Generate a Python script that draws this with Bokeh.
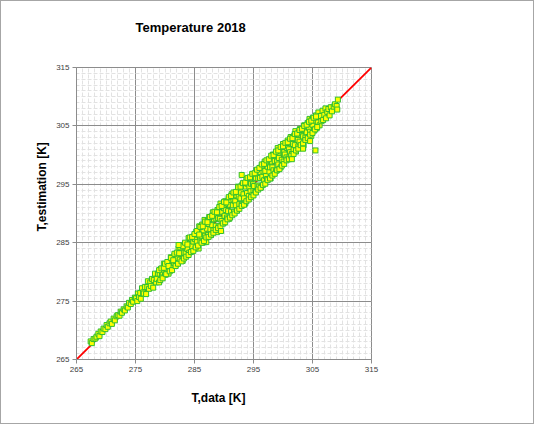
from bokeh.plotting import figure
from bokeh.models import FixedTicker, Range1d, Title
from bokeh.embed import file_html
from bokeh.resources import INLINE

# ---------------- data ----------------
axis_ticks = [265, 275, 285, 295, 305, 315]
minor_ticks = list(range(265, 316))
ref_line = [265, 315]

t_data_a = [267.4, 267.6, 267.9, 268.2, 268.4, 268.7, 268.9, 269.1, 269.4, 269.6,
            269.9, 270.1, 270.3, 270.6, 270.8, 271.0, 271.3, 271.5, 271.8, 272.0,
            272.3, 272.5, 272.7, 273.0, 273.2, 273.5, 273.7, 273.9, 274.2, 274.4,
            274.6, 274.9]
t_est_a = [268.1, 267.8, 268.5, 268.6, 268.9, 269.4, 269.0, 269.8, 269.7, 270.3,
           270.2, 270.9, 270.6, 271.2, 271.5, 271.1, 272.0, 271.7, 272.4, 272.6,
           272.5, 273.2, 273.0, 273.6, 273.4, 274.1, 273.9, 274.7, 274.5, 275.2,
           274.9, 275.6]

t_data_b = [275.1, 275.3, 275.4, 275.6, 275.8, 275.9, 276.1, 276.3, 276.4, 276.6,
            276.8, 277.0, 277.1, 277.3, 277.5, 277.6, 277.8, 278.0, 278.1, 278.3,
            278.5, 278.6, 278.8, 279.0, 279.1, 279.3, 279.5, 279.6, 279.8, 280.0,
            280.1, 280.3, 280.5, 280.6, 280.8, 281.0, 281.1, 281.3, 281.5, 281.6,
            281.8, 282.0, 282.1, 282.3, 282.5, 282.6, 282.8, 283.0, 283.1, 283.3,
            283.5, 283.6, 283.8, 284.0, 284.1, 284.3, 284.5, 284.6, 284.8, 285.0]
t_est_b = [275.5, 275.0, 276.3, 275.7, 276.4, 275.4, 277.2, 276.5, 276.3, 277.4,
           276.2, 277.4, 278.4, 277.1, 278.2, 277.6, 278.8, 277.3, 278.6, 279.7,
           278.2, 278.8, 279.7, 278.2, 279.7, 280.5, 279.4, 279.9, 281.4, 279.5,
           280.9, 280.4, 281.6, 279.7, 281.2, 282.5, 280.9, 282.0, 281.5, 282.8,
           281.2, 282.9, 282.4, 284.0, 282.1, 283.1, 283.8, 281.9, 283.3, 284.7,
           283.2, 284.4, 283.9, 285.8, 283.3, 284.9, 285.6, 284.4, 285.2, 286.3]

t_data_c = [285.1, 285.2, 285.3, 285.4, 285.5, 285.7, 285.8, 285.9, 286.0, 286.1,
            286.2, 286.3, 286.4, 286.5, 286.7, 286.8, 286.9, 287.0, 287.1, 287.2,
            287.3, 287.4, 287.5, 287.7, 287.8, 287.9, 288.0, 288.1, 288.2, 288.3,
            288.4, 288.6, 288.7, 288.8, 288.9, 289.0, 289.1, 289.2, 289.3, 289.4,
            289.6, 289.7, 289.8, 289.9, 290.0, 290.1, 290.2, 290.3, 290.5, 290.6,
            290.7, 290.8, 290.9, 291.0, 291.1, 291.2, 291.3, 291.5, 291.6, 291.7,
            291.8, 291.9, 292.0, 292.1, 292.2, 292.4, 292.5, 292.6, 292.7, 292.8,
            292.9, 293.0, 293.1, 293.3, 293.4, 293.5, 293.6, 293.7, 293.8, 293.9,
            294.0, 294.2, 294.3, 294.4, 294.5, 294.6, 294.7, 294.8, 294.9, 295.0]
t_est_c = [285.6, 284.0, 286.9, 285.1, 286.4, 284.0, 287.8, 286.0, 285.2, 287.4,
           286.1, 288.1, 285.0, 287.1, 288.9, 286.2, 288.0, 285.1, 287.4, 288.7,
           286.3, 288.2, 289.4, 287.3, 286.3, 289.1, 288.0, 290.2, 287.1, 289.0,
           289.8, 287.9, 289.1, 286.8, 290.6, 289.2, 287.8, 290.2, 289.1, 291.7,
           288.7, 290.3, 291.3, 288.3, 290.9, 289.6, 292.1, 290.6, 289.3, 291.7,
           290.4, 292.5, 289.1, 291.5, 292.3, 290.3, 293.3, 291.4, 292.4, 290.3,
           293.4, 292.1, 291.4, 293.1, 290.5, 294.6, 292.9, 291.6, 294.0, 292.6,
           293.6, 291.5, 294.9, 293.3, 292.6, 294.9, 291.7, 294.6, 295.9, 293.5,
           295.1, 293.0, 294.6, 296.0, 293.8, 295.1, 293.1, 296.7, 295.0, 294.0]

t_data_d = [295.1, 295.2, 295.3, 295.4, 295.5, 295.7, 295.8, 295.9, 296.0, 296.1,
            296.2, 296.3, 296.4, 296.5, 296.7, 296.8, 296.9, 297.0, 297.1, 297.2,
            297.3, 297.4, 297.5, 297.7, 297.8, 297.9, 298.0, 298.1, 298.2, 298.3,
            298.4, 298.6, 298.7, 298.8, 298.9, 299.0, 299.1, 299.2, 299.3, 299.4,
            299.6, 299.7, 299.8, 299.9, 300.0, 300.1, 300.2, 300.3, 300.5, 300.6,
            300.7, 300.8, 300.9, 301.0, 301.1, 301.2, 301.3, 301.5, 301.6, 301.7,
            301.8, 301.9, 302.0, 302.1, 302.2, 302.4, 302.5, 302.6, 302.7, 302.8,
            302.9, 303.0, 303.1, 303.3, 303.4, 303.5, 303.6, 303.7, 303.8, 303.9,
            304.0, 304.2, 304.3, 304.4, 304.5, 304.6, 304.7, 304.8, 304.9, 305.0]
t_est_d = [294.7, 296.5, 293.7, 296.1, 297.4, 294.8, 296.0, 294.6, 297.5, 296.1,
           297.1, 294.5, 298.1, 296.3, 297.2, 295.7, 298.9, 297.3, 296.4, 298.4,
           295.9, 298.0, 299.1, 297.2, 297.9, 296.0, 299.1, 298.9, 297.9, 300.1,
           297.4, 299.0, 300.1, 297.3, 299.8, 298.9, 301.2, 298.4, 299.5, 300.4,
           297.9, 301.2, 299.2, 300.6, 301.9, 298.9, 300.5, 300.1, 301.8, 299.6,
           301.2, 302.5, 299.4, 301.0, 302.2, 300.5, 303.1, 300.2, 302.2, 301.9,
           300.9, 303.3, 301.7, 304.1, 300.6, 303.2, 302.6, 301.5, 303.9, 302.3,
           304.5, 301.6, 303.5, 304.2, 303.2, 301.7, 305.1, 304.3, 303.0, 304.9,
           303.9, 305.5, 303.1, 304.7, 306.2, 304.0, 305.4, 303.3, 306.0, 305.2]

t_data_e = [305.1, 305.3, 305.4, 305.6, 305.7, 305.9, 306.0, 306.2, 306.3, 306.5,
            306.7, 306.8, 307.0, 307.2, 307.3, 307.5, 307.7, 307.9, 308.1, 308.3,
            308.6, 308.8, 309.1, 309.3]
t_est_e = [306.4, 304.2, 305.9, 306.8, 304.6, 305.6, 307.3, 305.1, 306.7, 305.8,
           307.6, 306.0, 306.9, 308.0, 306.3, 307.4, 307.9, 306.8, 308.2, 307.5,
           308.3, 308.7, 308.4, 309.5]

t_data_f = [279.0, 279.2, 279.4, 279.6, 279.8, 280.0, 280.2, 280.4, 280.6, 280.8,
            281.0, 281.2, 281.4, 281.6, 281.8, 282.0, 282.2, 282.4, 282.6, 282.8,
            283.0, 283.2, 283.4, 283.6, 283.8, 284.0, 284.2, 284.4, 284.6, 284.8,
            285.0, 285.2, 285.4, 285.6, 285.8, 286.0, 286.2, 286.4, 286.6, 286.8,
            287.0, 287.2, 287.4, 287.6, 287.8, 288.0, 288.2, 288.4, 288.6, 288.8,
            289.0, 289.2, 289.4, 289.6, 289.8, 290.0, 290.2, 290.4, 290.6, 290.8,
            291.0, 291.2, 291.4, 291.6, 291.8, 292.0, 292.2, 292.4, 292.6, 292.8,
            293.0, 293.2, 293.4, 293.6, 293.8, 294.0, 294.2, 294.4, 294.6, 294.8,
            295.0, 295.2, 295.4, 295.6, 295.8, 296.0, 296.2, 296.4, 296.6, 296.8,
            297.0, 297.2, 297.4, 297.6, 297.8, 298.0, 298.2, 298.4, 298.6, 298.8,
            299.0, 299.2, 299.4, 299.6, 299.8, 300.0, 300.2, 300.4, 300.6, 300.8,
            301.0, 301.2, 301.4, 301.6, 301.8, 302.0, 302.2, 302.4, 302.6, 302.8,
            303.0, 303.2, 303.4, 303.6, 303.8, 304.0, 304.2, 304.4, 304.6, 304.8,
            305.0, 305.2, 305.4, 305.6, 305.8]
t_est_f = [280.3, 278.6, 280.6, 278.9, 280.7, 281.4, 279.6, 281.7, 281.0, 280.1,
           282.4, 280.3, 282.0, 283.1, 281.0, 283.3, 281.4, 283.2, 284.2, 281.8,
           284.4, 282.3, 285.0, 282.6, 284.7, 282.9, 285.9, 283.4, 286.0, 283.6,
           286.5, 284.2, 287.0, 284.5, 286.4, 287.7, 285.0, 287.8, 285.3, 288.6,
           285.9, 288.5, 286.0, 289.4, 286.4, 289.6, 286.7, 290.3, 287.2, 290.2,
           287.5, 291.1, 287.8, 291.3, 288.3, 292.0, 288.5, 291.9, 289.0, 292.8,
           289.3, 293.0, 289.7, 293.6, 290.0, 293.7, 290.5, 294.5, 290.8, 294.6,
           291.3, 295.2, 291.5, 295.3, 292.1, 296.1, 292.4, 296.2, 292.8, 296.8,
           293.1, 296.9, 293.6, 297.5, 294.1, 297.8, 294.4, 298.4, 294.9, 298.5,
           295.1, 299.1, 295.7, 299.3, 296.0, 299.9, 296.5, 300.0, 296.8, 300.6,
           297.4, 300.8, 297.6, 301.4, 298.2, 301.5, 298.5, 302.1, 299.1, 302.2,
           299.3, 302.8, 299.9, 302.9, 300.2, 303.6, 300.8, 303.7, 301.1, 304.3,
           301.7, 304.5, 302.0, 305.0, 302.6, 305.2, 302.9, 305.7, 303.5, 305.9,
           303.8, 306.4, 304.4, 306.6, 304.8]

t_data_out = [305.5, 303.4, 301.5, 304.6, 293.0, 289.5, 282.3, 309.2]
t_est_out = [300.8, 301.1, 299.3, 302.4, 296.6, 287.0, 284.6, 307.8]

t_data = t_data_a + t_data_b + t_data_c + t_data_d + t_data_e + t_data_f + t_data_out
t_est = t_est_a + t_est_b + t_est_c + t_est_d + t_est_e + t_est_f + t_est_out

FONT = "Liberation Sans"

# ---------------- figure ----------------
p = figure(width=534, height=424, output_backend="svg", toolbar_location=None,
           x_range=Range1d(265, 315), y_range=Range1d(265, 315),
           min_border_left=75, min_border_right=164,
           min_border_top=66, min_border_bottom=66)
p.styles = {"border": "1px solid #a6a6a6"}

p.background_fill_color = "white"
p.border_fill_color = "white"
p.outline_line_color = "#8c8c8c"
p.outline_line_width = 1

# spacer (closest to the frame) then the chart title above it
spacer = Title(text=" ", text_font=FONT, text_font_size="14px")
main_title = Title(text="Temperature 2018", align="left", offset=59,
                   text_font=FONT, text_font_size="13px",
                   text_font_style="bold", text_color="black")
p.add_layout(spacer, "above")
p.add_layout(main_title, "above")

ticker = FixedTicker(ticks=axis_ticks, minor_ticks=minor_ticks)
for ax in (p.xaxis[0], p.yaxis[0]):
    ax.ticker = ticker
    ax.axis_line_color = "#8c8c8c"
    ax.major_tick_line_color = "#8c8c8c"
    ax.major_tick_out = 4
    ax.major_tick_in = 0
    ax.minor_tick_out = 0
    ax.minor_tick_in = 0
    ax.major_label_text_font = FONT
    ax.major_label_text_font_size = "8px"
    ax.major_label_text_color = "#404040"
    ax.major_label_standoff = 3

# small gap below the x tick labels
p.xaxis[0].axis_label = " "
p.xaxis[0].axis_label_text_font_size = "1px"
p.xaxis[0].axis_label_standoff = 5

xlab = Title(text="T,data [K]", align="left", offset=115,
             text_font=FONT, text_font_size="12px", text_font_style="bold",
             text_color="black")
p.add_layout(xlab, "below")

ylab = Title(text="T,estimation [K]", align="left", offset=128,
             text_font=FONT, text_font_size="12px", text_font_style="bold",
             text_color="black")
p.add_layout(ylab, "left")

for g in (p.xgrid[0], p.ygrid[0]):
    g.grid_line_color = "#8c8c8c"
    g.grid_line_width = 1
    g.minor_grid_line_color = "#e2e2e2"
    g.minor_grid_line_width = 1
    g.minor_grid_line_dash = "4 2"
    g.minor_grid_line_dash_offset = 1

p.line(ref_line, ref_line, line_color="#ff0000", line_width=1.8)
p.scatter(t_data, t_est, marker="square", size=5,
          fill_color="#ffff00", line_color="#2fbf2f", line_width=1)

open("out.html", "w").write(file_html(p, INLINE))
